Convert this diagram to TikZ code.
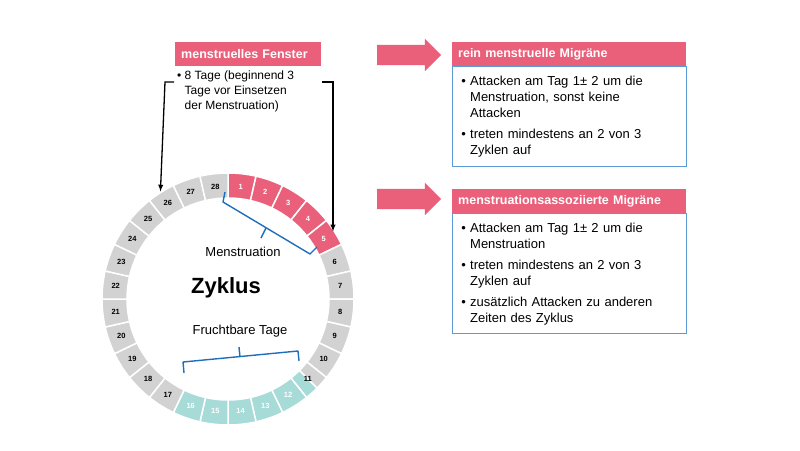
\documentclass[tikz,border=0pt]{standalone}
\usepackage{fontspec}
\setmainfont{Liberation Sans}
\usetikzlibrary{shapes.arrows,positioning}
\definecolor{mpink}{RGB}{234,96,122}
\definecolor{mteal}{RGB}{166,219,216}
\definecolor{mgray}{RGB}{210,210,210}
\definecolor{mblue}{RGB}{91,155,213}
\definecolor{bracecol}{RGB}{30,110,190}
\tikzstyle{header}=[fill=mpink,text=white,font=\bfseries\fontsize{12.5}{14}\selectfont,anchor=north west,inner xsep=6pt,inner ysep=0pt,minimum height=24pt,align=left]
\tikzstyle{bodybox}=[draw=mblue,line width=0.6pt,anchor=north west,inner xsep=9pt,inner ysep=7pt,font=\fontsize{13}{16}\selectfont,align=left]
\tikzstyle{bigarrow}=[single arrow,fill=mpink,minimum width=32pt,inner ysep=10pt,inner xsep=0pt,single arrow head extend=6pt,minimum height=64pt]
\tikzstyle{curly}=[bracecol,line width=1.4pt]
\newcommand{\daysector}[3]{% #1 start angle, #2 end angle, #3 colour
  \fill[#3,draw=white,line width=1.5pt] (#1:126) arc (#1:#2:126) -- (#2:101) arc (#2:#1:101) -- cycle;
}
\newcommand{\ind}{\phantom{\textbullet\ }}
\begin{document}
\begin{tikzpicture}[x=1pt,y=-1pt]
\useasboundingbox (0,0) rectangle (800,450);
% ring of days
\begin{scope}[shift={(228,299)}]
  \foreach \k in {1,...,28} {
    \pgfmathsetmacro{\a}{(\k-1)*360/28-90}
    \pgfmathsetmacro{\b}{\k*360/28-90}
    \pgfmathsetmacro{\m}{(\k-0.5)*360/28-90}
    \ifnum\k<6 \def\col{mpink}\def\tcol{white}
    \else\ifnum\k>11 \ifnum\k<17 \def\col{mteal}\def\tcol{white}\else\def\col{mgray}\def\tcol{black}\fi
    \else \def\col{mgray}\def\tcol{black}\fi\fi
    \daysector{\a}{\b}{\col}
    \ifnum\k=11 \daysector{\m}{\b}{mteal} \fi
    \node[font=\bfseries\fontsize{7.5}{8}\selectfont,text=\tcol] (d\k) at (\m:113) {\k};
  }
  \coordinate (tip26) at ({(25.5)*360/28-90}:127);
  \coordinate (tip5) at ({(4.5)*360/28-90}:127);
\end{scope}
% centre labels
\node[font=\bfseries\fontsize{22}{24}\selectfont] (zyklus) at (226,288) {Zyklus};
\node[font=\fontsize{13}{15}\selectfont] (mens) at (243,252) {Menstruation};
\node[font=\fontsize{13}{15}\selectfont] (frucht) at (240,331) {Fruchtbare Tage};
% braces
\draw[curly,line join=round] (225,192) -- (223,202) -- (310,254) -- (317,247);
\draw[curly] (266,228) -- (261,238);
\draw[curly,line join=round] (184,373) -- (183,362) -- (298,351) -- (299,361);
\draw[curly] (240,357) -- (239,347);
% menstrual window
\node[header,minimum width=146pt,text width=134pt] (fenster) at (175,42) {menstruelles Fenster};
\node[anchor=north west,align=left,font=\fontsize{12}{15}\selectfont,inner sep=0pt] (acht) at (177,71)
  {\textbullet\ 8 Tage (beginnend 3\\\ind Tage vor Einsetzen\\\ind der Menstruation)};
\coordinate (lt) at (174,82);
\coordinate (rt) at (322,82);
\draw[line width=1.3pt,-latex] (lt) -- (165,82) -- (tip26);
\draw[line width=1.3pt,-latex] (rt) -- (333,82) -- (333,82 |- tip5);
% arrows
\node[bigarrow] (arr1) at (404,55) {};
\node[bigarrow] (arr2) at (404,199) {};
% right boxes
\node[header,minimum width=234pt,text width=222pt] (rein) at (452,42) {rein menstruelle Migräne};
\node[bodybox,text width=216pt,minimum height=100pt,below=0pt of rein.south west,anchor=north west] (reinbox)
  {\textbullet\ Attacken am Tag 1± 2 um die\\\ind Menstruation, sonst keine\\\ind Attacken\\[5pt]
   \textbullet\ treten mindestens an 2 von 3\\\ind Zyklen auf};
\node[header,minimum width=234pt,text width=222pt] (assoz) at (452,189) {menstruationsassoziierte Migräne};
\node[bodybox,text width=216pt,minimum height=120pt,below=0pt of assoz.south west,anchor=north west] (assozbox)
  {\textbullet\ Attacken am Tag 1± 2 um die\\\ind Menstruation\\[5pt]
   \textbullet\ treten mindestens an 2 von 3\\\ind Zyklen auf\\[5pt]
   \textbullet\ zusätzlich Attacken zu anderen\\\ind Zeiten des Zyklus};
\end{tikzpicture}
\end{document}
